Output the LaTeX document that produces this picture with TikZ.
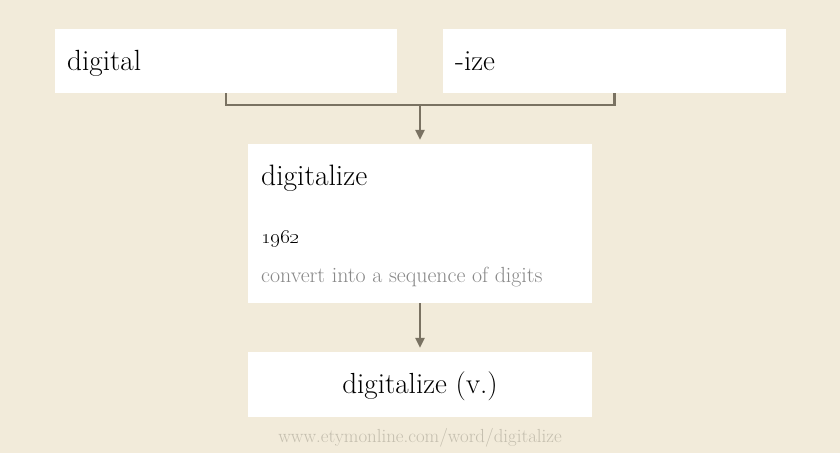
\documentclass[tikz,border=0pt]{standalone}
\usetikzlibrary{arrows.meta}
\definecolor{bg}{HTML}{F2EBDA}
\definecolor{conn}{HTML}{7A7262}
\definecolor{defc}{HTML}{888888}
\definecolor{wm}{HTML}{C4BEAE}
\tikzset{
  box/.style={fill=white, draw=none, inner sep=0pt, minimum width=#1},
  conline/.style={draw=conn, line width=2.3pt},
  arr/.style={conline, -{Triangle[length=10pt,width=9pt]}, shorten >=4pt},
  lbl/.style={anchor=base west, inner sep=0pt},
}
\newcommand{\fsz}[1]{\fontsize{#1}{#1}\selectfont}
\begin{document}
\begin{tikzpicture}[x=1pt,y=-1pt]
\useasboundingbox (0,0) rectangle (840,453);
\fill[bg] (0,0) rectangle (840,453);
% boxes
\node[box=342pt, minimum height=64pt] (digital) at (226,61) {};
\node[box=343pt, minimum height=64pt] (ize) at (614.5,61) {};
\node[box=344pt, minimum height=159pt] (word) at (420,223.5) {};
\node[box=344pt, minimum height=65pt] (final) at (420,384.5) {};
% texts
\node[lbl] (tdigital) at (67,70) {\fsz{29.2}digital};
\node[lbl] (tize) at (455,70) {\fsz{29.2}-ize};
\node[lbl] (tword) at (261,185) {\fsz{29.5}digitalize};
\node[lbl] (tyear) at (261,243) {\fsz{21.5}\oldstylenums{1962}};
\node[lbl, text=defc] (tdef) at (261,282) {\fsz{21.9}convert into a sequence of digits};
\node[anchor=base, inner sep=0pt] (tfinal) at (420,393) {\fsz{29.1}digitalize (v.)};
\node[anchor=base, inner sep=0pt, text=wm] (twm) at (420,442) {\fsz{18.9}www.etymonline.com/word/digitalize};
% connectors
\coordinate (j) at (420,105);
\draw[conline] (digital.south) |- (j) -| (ize.south);
\draw[arr] (j) -- (word.north);
\draw[arr] (word.south) -- (final.north);
\end{tikzpicture}
\end{document}
